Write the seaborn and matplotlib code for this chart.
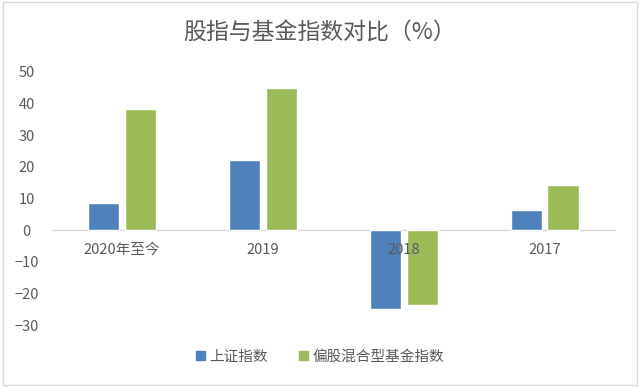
import matplotlib
matplotlib.use("Agg")
import matplotlib.pyplot as plt
import pandas as pd
import seaborn as sns
from matplotlib.patches import Rectangle

periods = ["2020年至今", "2019", "2018", "2017"]
series_names = ["上证指数", "偏股混合型基金指数"]
sh_index = [8.4, 22.1, -24.8, 6.3]
fund_index = [38.2, 44.8, -23.7, 14.1]
y_ticks = [-30, -20, -10, 0, 10, 20, 30, 40, 50]

df = pd.DataFrame({
    "period": periods * 2,
    "series": [series_names[0]] * len(periods) + [series_names[1]] * len(periods),
    "value": sh_index + fund_index,
})

sns.set_theme(style="white")
plt.rcParams["font.family"] = ["Noto Sans CJK SC", "DejaVu Sans"]
text_color = "#595959"
colors = ["#4F81BD", "#9BBB59"]

fig = plt.figure(figsize=(6.4, 3.87), dpi=100)
ax = fig.add_axes([0.081, 0.160, 0.880, 0.6547])
sns.barplot(
    data=df, x="period", y="value", hue="series", order=periods,
    hue_order=series_names, palette=colors, saturation=1,
    width=0.52, gap=0.15, ax=ax, legend=False,
)

ax.set_ylim(-30, 50)
ax.set_yticks(y_ticks)
ax.set_xlabel("")
ax.set_ylabel("")
for side in ["left", "right", "top"]:
    ax.spines[side].set_visible(False)
ax.spines["bottom"].set_position(("data", 0))
ax.spines["bottom"].set_color("#D9D9D9")
ax.spines["bottom"].set_linewidth(1.0)
ax.spines["bottom"].set_zorder(0.5)
ax.xaxis.set_zorder(5)
ax.tick_params(axis="x", length=0, pad=9, labelsize=10.5, colors=text_color)
ax.tick_params(axis="y", length=0, pad=18, labelsize=10.5, colors=text_color)
for lbl in ax.get_yticklabels():
    lbl.set_horizontalalignment("center")

fig.text(0.5, 1 - 33 / 387, "股指与基金指数对比（%）", ha="center", va="center",
         fontsize=16.5, color=text_color)

handles = [Rectangle((0, 0), 1, 1, color=c) for c in colors]
fig.legend(handles, series_names, loc="center", bbox_to_anchor=(0.5, 1 - 357 / 387),
           ncol=2, frameon=False, fontsize=10.5, handlelength=0.6, handleheight=0.6,
           handletextpad=0.3, columnspacing=2.2, labelcolor=text_color)

fig.patches.append(Rectangle((0.004, 0.004), 0.992, 0.99, transform=fig.transFigure,
                             fill=False, edgecolor="#D9D9D9", linewidth=1.0))

fig.savefig("out.png", dpi=100)
